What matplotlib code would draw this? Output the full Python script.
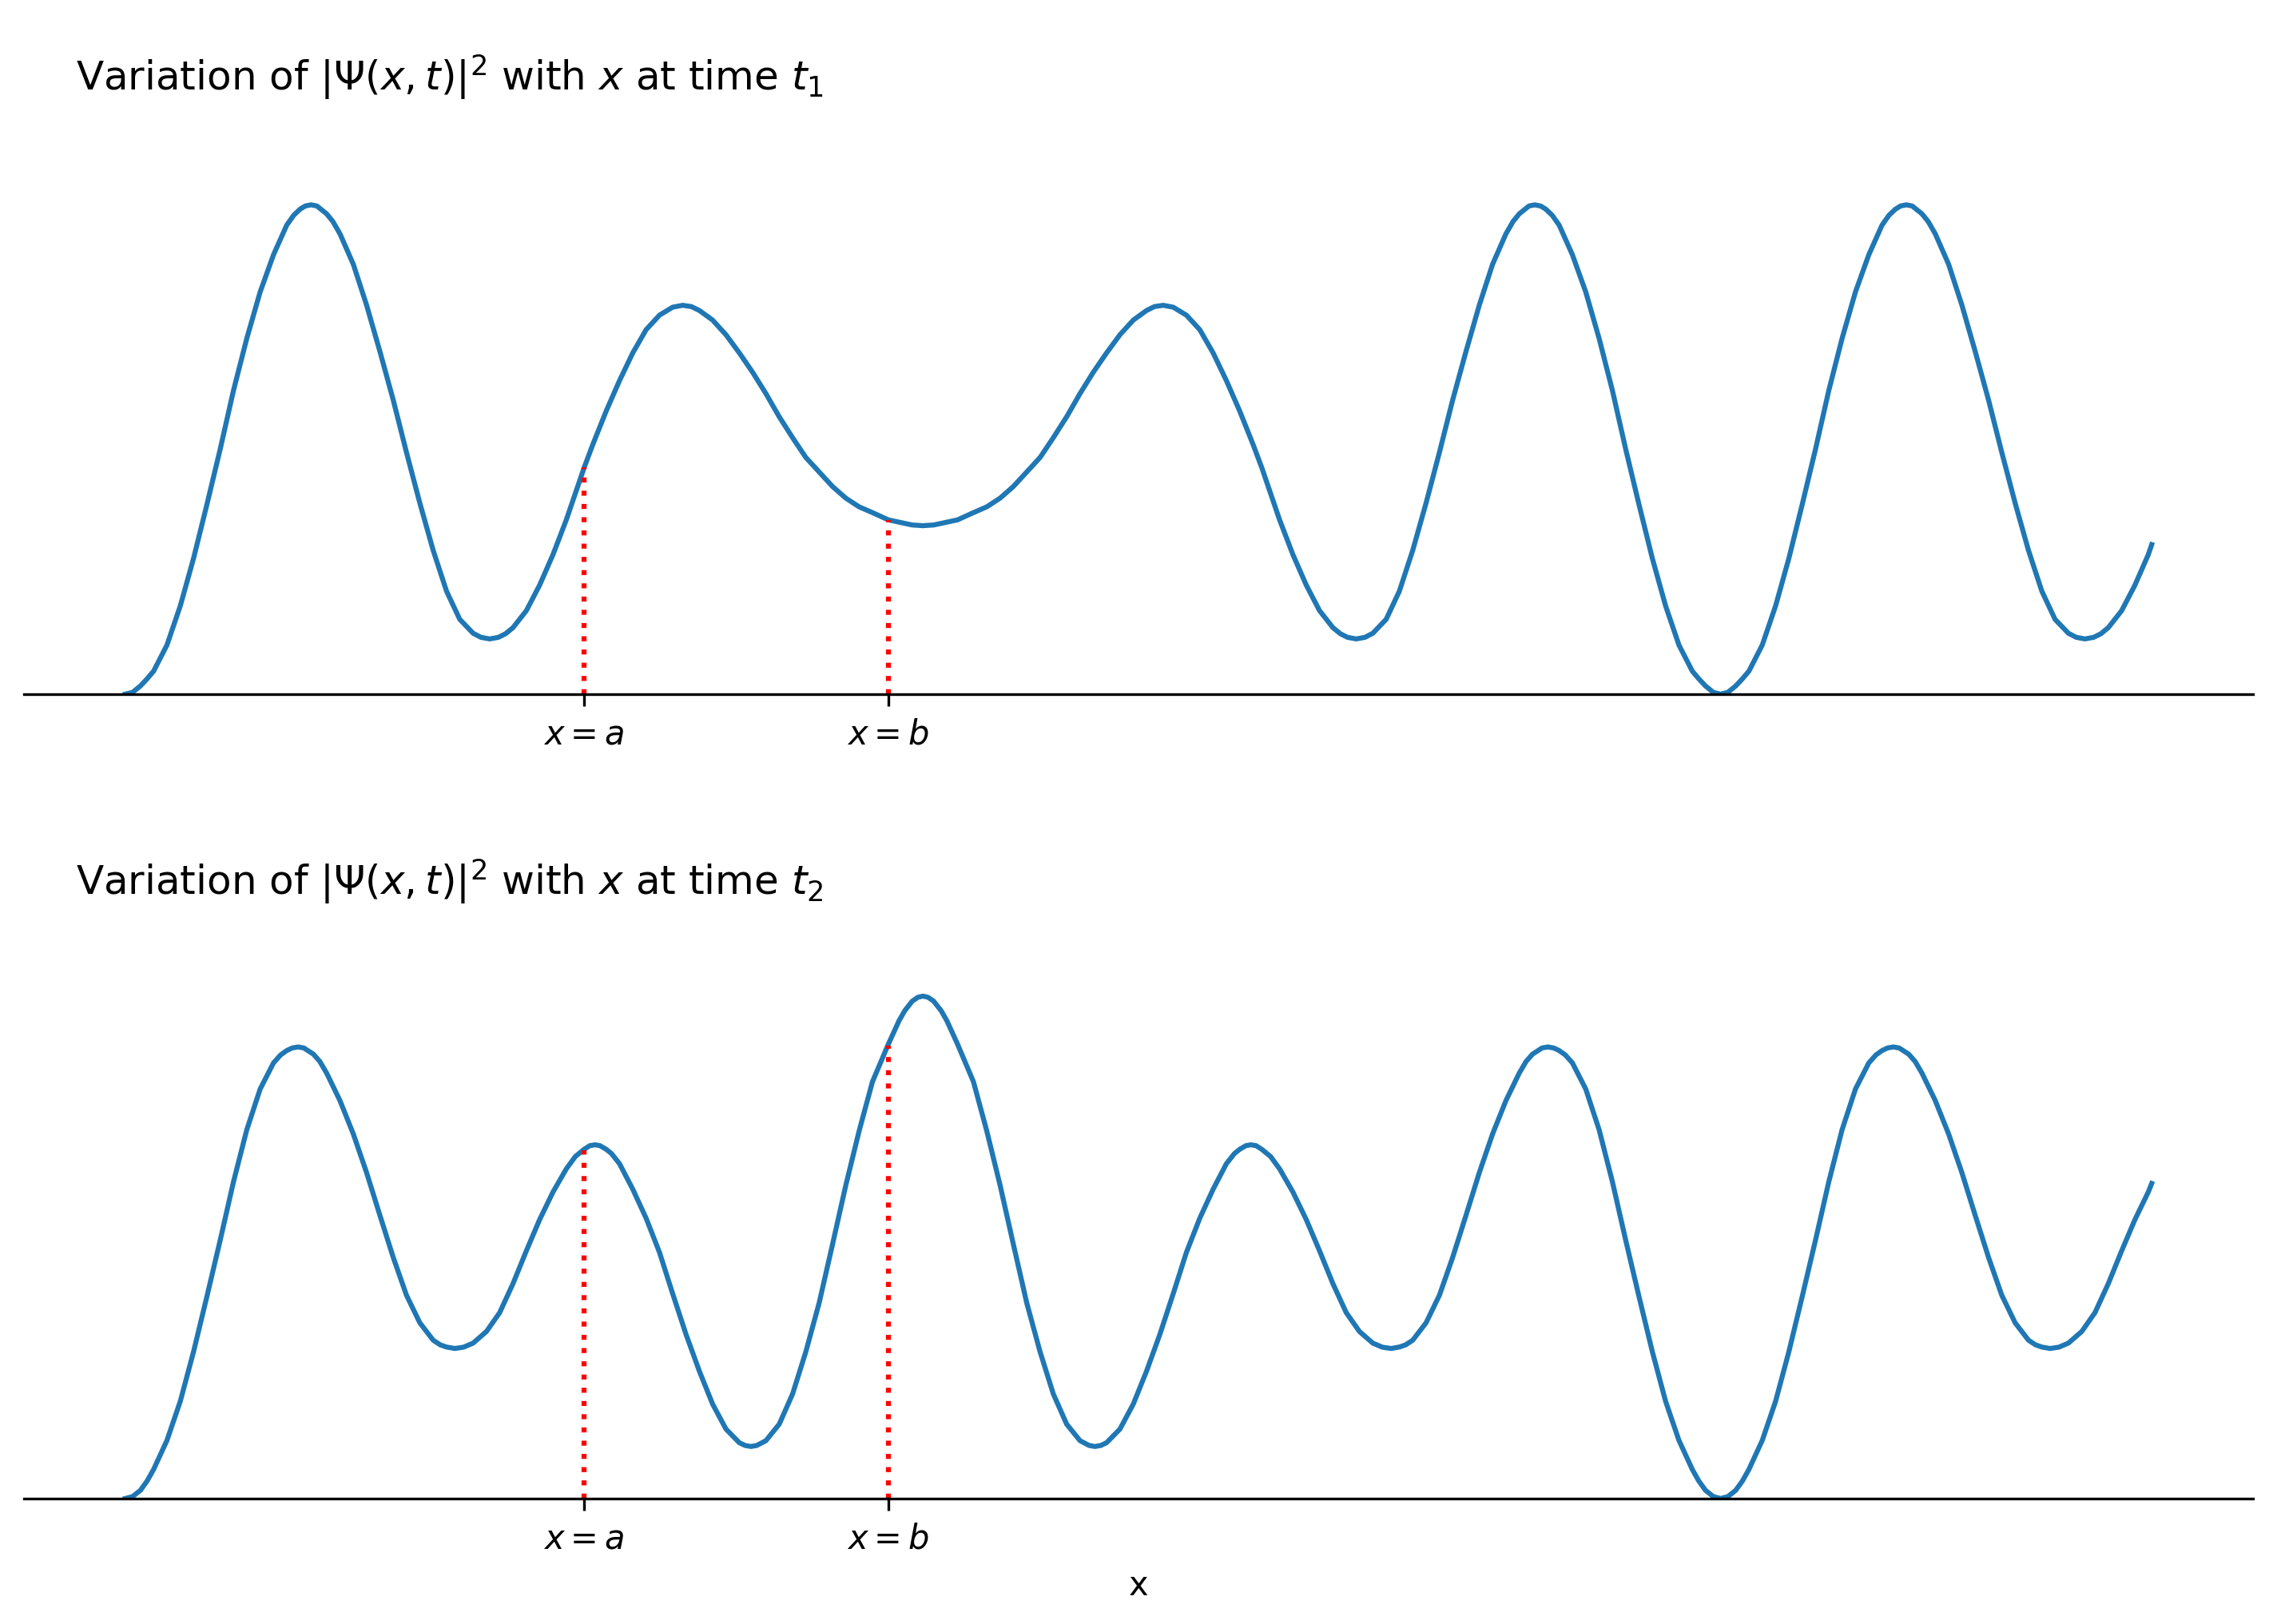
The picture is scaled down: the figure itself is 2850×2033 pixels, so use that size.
import matplotlib
matplotlib.use('Agg')
import matplotlib.pyplot as plt

# |Psi|^2 at t1 (x: position, y: density, arbitrary units)
x_t1 = [0.000, 0.050, 0.104, 0.150, 0.195, 0.287, 0.379, 0.470, 0.562, 0.654,
        0.745, 0.837, 0.929, 1.021, 1.112, 1.160, 1.204, 1.240, 1.280, 1.320,
        1.387, 1.430, 1.479, 1.571, 1.662, 1.754, 1.846, 1.937, 2.029, 2.121,
        2.213, 2.304, 2.396, 2.450, 2.510, 2.570, 2.620, 2.671, 2.763, 2.854,
        2.946, 3.038, 3.161, 3.221, 3.313, 3.405, 3.496, 3.588, 3.680, 3.771,
        3.840, 3.900, 3.955, 4.046, 4.138, 4.230, 4.322, 4.413, 4.505, 4.597,
        4.688, 4.780, 4.872, 4.963, 5.055, 5.147, 5.257, 5.349, 5.420, 5.495,
        # right half
        5.570, 5.641, 5.733, 5.843, 5.935, 6.027, 6.118, 6.210, 6.302, 6.393,
        6.485, 6.577, 6.668, 6.760, 6.852, 6.944, 7.035, 7.090, 7.150, 7.219,
        7.310, 7.402, 7.494, 7.585, 7.677, 7.769, 7.829, 7.952, 8.044, 8.136,
        8.227, 8.319, 8.370, 8.420, 8.480, 8.540, 8.594, 8.686, 8.777, 8.869,
        8.961, 9.053, 9.144, 9.236, 9.328, 9.419, 9.511, 9.560, 9.603, 9.670,
        9.710, 9.750, 9.786, 9.830, 9.878, 9.969, 10.061, 10.153, 10.245, 10.336,
        10.428, 10.520, 10.611, 10.703, 10.795, 10.840, 10.886, 10.940, 10.990,
        # tail
        11.040, 11.094, 11.140, 11.185, 11.277, 11.369, 11.460, 11.552, 11.644, 11.735,
        11.827, 11.919, 12.011, 12.102, 12.150, 12.194, 12.230, 12.270, 12.310, 12.377,
        12.420, 12.469, 12.561, 12.652, 12.744, 12.836, 12.927, 13.019, 13.111, 13.203,
        13.294, 13.386, 13.440, 13.500, 13.560, 13.610, 13.661, 13.753, 13.844, 13.936,
        13.960]
y_t1 = [0.000, 0.012, 0.056, 0.105, 0.158, 0.338, 0.608, 0.934, 1.305, 1.688,
        2.090, 2.450, 2.770, 3.026, 3.230, 3.298, 3.340, 3.362, 3.370, 3.362,
        3.308, 3.255, 3.170, 2.960, 2.680, 2.360, 2.025, 1.665, 1.316, 0.990,
        0.709, 0.515, 0.419, 0.391, 0.380, 0.391, 0.416, 0.458, 0.575, 0.750,
        0.960, 1.200, 1.560, 1.720, 1.950, 2.160, 2.350, 2.510, 2.610, 2.665,
        2.678, 2.669, 2.642, 2.576, 2.475, 2.350, 2.216, 2.070, 1.910, 1.766,
        1.630, 1.530, 1.430, 1.350, 1.290, 1.250, 1.200, 1.180, 1.165, 1.160,
        # right half
        1.165, 1.180, 1.200, 1.250, 1.290, 1.350, 1.430, 1.530, 1.630, 1.766,
        1.910, 2.070, 2.216, 2.350, 2.475, 2.576, 2.642, 2.669, 2.678, 2.665,
        2.610, 2.510, 2.350, 2.160, 1.950, 1.720, 1.560, 1.200, 0.960, 0.750,
        0.575, 0.458, 0.416, 0.391, 0.380, 0.391, 0.419, 0.515, 0.709, 0.990,
        1.316, 1.665, 2.025, 2.360, 2.680, 2.960, 3.170, 3.255, 3.308, 3.362,
        3.370, 3.362, 3.340, 3.298, 3.230, 3.026, 2.770, 2.450, 2.090, 1.688,
        1.305, 0.934, 0.608, 0.338, 0.158, 0.105, 0.056, 0.012, 0.000,
        # tail
        0.012, 0.056, 0.105, 0.158, 0.338, 0.608, 0.934, 1.305, 1.688, 2.090,
        2.450, 2.770, 3.026, 3.230, 3.298, 3.340, 3.362, 3.370, 3.362, 3.308,
        3.255, 3.170, 2.960, 2.680, 2.360, 2.025, 1.665, 1.316, 0.990, 0.709,
        0.515, 0.419, 0.391, 0.380, 0.391, 0.416, 0.458, 0.575, 0.750, 0.960,
        1.030]

# |Psi|^2 at t2
x_t2 = [0.000, 0.050, 0.104, 0.150, 0.195, 0.287, 0.379, 0.470, 0.562, 0.654,
        0.745, 0.837, 0.929, 1.021, 1.070, 1.112, 1.150, 1.190, 1.230, 1.296,
        1.340, 1.387, 1.479, 1.571, 1.662, 1.754, 1.846, 1.937, 2.029, 2.121,
        2.170, 2.213, 2.270, 2.330, 2.396, 2.488, 2.579, 2.671, 2.763, 2.854,
        2.946, 3.038, 3.100, 3.161, 3.200, 3.236, 3.270, 3.313, 3.350, 3.405,
        3.496, 3.588, 3.680, 3.771, 3.863, 3.955, 4.046, 4.138, 4.230, 4.270,
        4.310, 4.350, 4.413, 4.505, 4.597, 4.688, 4.780, 4.872, 4.963, 5.055,
        5.147, 5.257, 5.330, 5.370, 5.421, 5.460, 5.495,
        # right half
        5.530, 5.569, 5.620, 5.660, 5.733, 5.843, 5.935, 6.027, 6.118, 6.210,
        6.302, 6.393, 6.485, 6.577, 6.640, 6.680, 6.720, 6.760, 6.852, 6.944,
        7.035, 7.127, 7.219, 7.310, 7.402, 7.494, 7.585, 7.640, 7.677, 7.720,
        7.754, 7.790, 7.829, 7.890, 7.952, 8.044, 8.136, 8.227, 8.319, 8.411,
        8.502, 8.594, 8.660, 8.720, 8.777, 8.820, 8.869, 8.961, 9.053, 9.144,
        9.236, 9.328, 9.419, 9.511, 9.603, 9.650, 9.694, 9.760, 9.800, 9.840,
        9.878, 9.920, 9.969, 10.061, 10.153, 10.245, 10.336, 10.428, 10.520, 10.611,
        10.703, 10.795, 10.840, 10.886, 10.940, 10.990,
        # tail
        11.040, 11.094, 11.140, 11.185, 11.277, 11.369, 11.460, 11.552, 11.644, 11.735,
        11.827, 11.919, 12.011, 12.060, 12.102, 12.140, 12.180, 12.220, 12.286, 12.330,
        12.377, 12.469, 12.561, 12.652, 12.744, 12.836, 12.927, 13.019, 13.111, 13.160,
        13.203, 13.260, 13.320, 13.386, 13.478, 13.569, 13.661, 13.753, 13.844, 13.936,
        13.960]
y_t2 = [0.000, 0.013, 0.056, 0.120, 0.200, 0.400, 0.670, 1.010, 1.390, 1.780,
        2.180, 2.540, 2.820, 3.000, 3.055, 3.085, 3.103, 3.110, 3.103, 3.060,
        3.010, 2.930, 2.740, 2.510, 2.245, 1.950, 1.660, 1.400, 1.210, 1.090,
        1.058, 1.043, 1.033, 1.042, 1.070, 1.150, 1.280, 1.480, 1.706, 1.920,
        2.110, 2.270, 2.355, 2.405, 2.430, 2.436, 2.430, 2.405, 2.375, 2.305,
        2.130, 1.930, 1.695, 1.410, 1.130, 0.876, 0.650, 0.478, 0.384, 0.365,
        0.358, 0.365, 0.398, 0.512, 0.720, 1.010, 1.347, 1.750, 2.155, 2.530,
        2.870, 3.130, 3.290, 3.360, 3.425, 3.452, 3.460,
        # right half
        3.452, 3.425, 3.360, 3.290, 3.130, 2.870, 2.530, 2.155, 1.750, 1.347,
        1.010, 0.720, 0.512, 0.398, 0.365, 0.358, 0.365, 0.384, 0.478, 0.650,
        0.876, 1.130, 1.410, 1.695, 1.930, 2.130, 2.305, 2.375, 2.405, 2.430,
        2.436, 2.430, 2.405, 2.355, 2.270, 2.110, 1.920, 1.706, 1.480, 1.280,
        1.150, 1.070, 1.042, 1.033, 1.043, 1.058, 1.090, 1.210, 1.400, 1.660,
        1.950, 2.245, 2.510, 2.740, 2.930, 3.010, 3.060, 3.103, 3.110, 3.103,
        3.085, 3.055, 3.000, 2.820, 2.540, 2.180, 1.780, 1.390, 1.010, 0.670,
        0.400, 0.200, 0.120, 0.056, 0.013, 0.000,
        # tail
        0.013, 0.056, 0.120, 0.200, 0.400, 0.670, 1.010, 1.390, 1.780, 2.180,
        2.540, 2.820, 3.000, 3.055, 3.085, 3.103, 3.110, 3.103, 3.060, 3.010,
        2.930, 2.740, 2.510, 2.245, 1.950, 1.660, 1.400, 1.210, 1.090, 1.058,
        1.043, 1.033, 1.042, 1.070, 1.150, 1.280, 1.480, 1.706, 1.920, 2.110,
        2.170]

# interval limits and the density there
x_ab = [3.161, 5.257]
tick_labels = ['$x=a$', '$x=b$']
y_ab_t1 = [1.56, 1.20]
y_ab_t2 = [2.40, 3.12]

titles = [r'Variation of $|\Psi(x,t)|^2$ with $x$ at time $t_1$',
          r'Variation of $|\Psi(x,t)|^2$ with $x$ at time $t_2$']

fig = plt.figure(figsize=(9.5, 2033 / 300), dpi=300)
ax1 = fig.add_axes([0.01053, 0.5726, 0.97895, 0.3576])
ax2 = fig.add_axes([0.01053, 0.0773, 0.97895, 0.3576])

for ax, xs, ys, yab in [(ax1, x_t1, y_t1, y_ab_t1), (ax2, x_t2, y_t2, y_ab_t2)]:
  ax.plot(xs, ys, color='#1f77b4', lw=1.5)
  for xv, yv in zip(x_ab, yab):
    ax.plot([xv, xv], [0, yv], color='red', ls=':', lw=1.5)
  ax.set_ylim(0, 4.0)
  ax.set_xticks(x_ab)
  ax.set_xticklabels(tick_labels)
  ax.set_yticks([])
  for s in ['top', 'left', 'right']:
    ax.spines[s].set_visible(False)

ax2.set_xlabel('x')

fig.text(0.0332, 0.9444, titles[0], fontsize=12, va='baseline')
fig.text(0.0332, 0.4491, titles[1], fontsize=12, va='baseline')

fig.savefig('out.png', dpi=300)
